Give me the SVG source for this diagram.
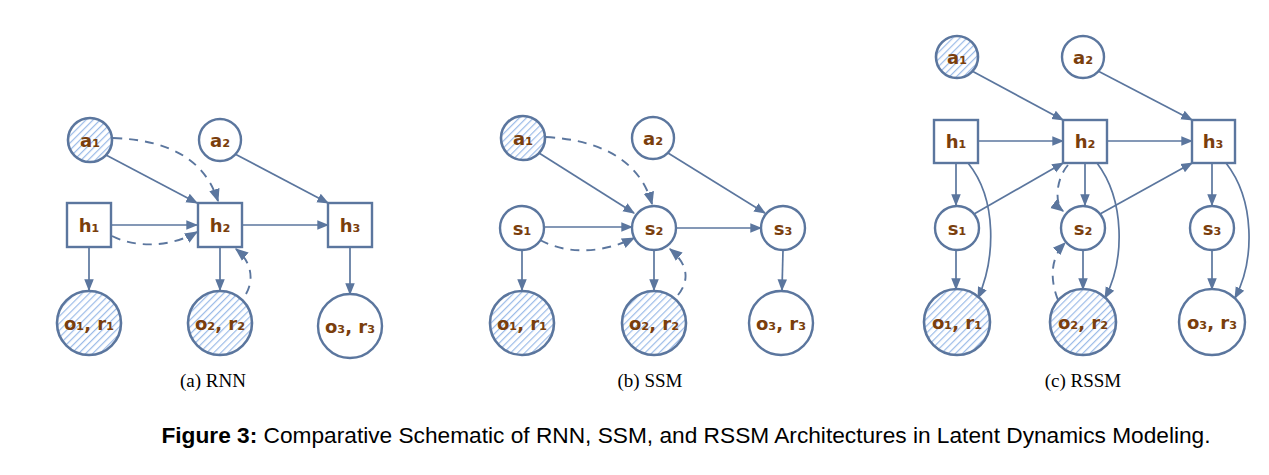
<svg xmlns="http://www.w3.org/2000/svg" width="1269" height="475" viewBox="0 0 1269 475">
<style>
.n{fill:#fff;stroke:#5b769e;stroke-width:2.4}
.h{fill:url(#hatch);stroke:#5b769e;stroke-width:2.6}
.t{font-family:"DejaVu Sans",sans-serif;font-size:18px;font-weight:bold;fill:#7a3e0c;text-anchor:middle;dominant-baseline:central}
.c{fill:none;stroke:#5b769e;stroke-width:1.7;marker-end:url(#ar)}
.d{fill:none;stroke:#5b769e;stroke-width:1.9;stroke-dasharray:9 7;marker-end:url(#ar)}
.cap{font-family:"Liberation Serif",serif;font-size:19px;fill:#000;text-anchor:middle}
</style>
<defs>
<pattern id="hatch" width="5" height="5" patternUnits="userSpaceOnUse" patternTransform="rotate(45)">
<rect width="5" height="5" fill="#fff"/><line x1="0" y1="0" x2="0" y2="5" stroke="#9bbbe8" stroke-width="2.4"/>
</pattern>
<marker id="ar" viewBox="0 0 10 10" refX="9" refY="5" markerWidth="7" markerHeight="7" orient="auto"><path d="M0,1 L10,5 L0,9 z" fill="#5b769e"/></marker>
</defs>
<rect width="1269" height="475" fill="#fff"/>
<g id="connectors">
<path class="c" d="M106,155 L197,203"/>
<path class="d" d="M113,138 C170,140 205,160 218,201"/>
<path class="c" d="M235,154 L328,203"/>
<path class="c" d="M111,225 L197,225"/>
<path class="d" d="M112,236 C140,250 175,245 197,232"/>
<path class="c" d="M242,225 L328,225"/>
<path class="c" d="M89,247 L89,290"/>
<path class="c" d="M220,247 L220,290"/>
<path class="d" d="M246,294 C254,280 252,262 236,249"/>
<path class="c" d="M350,247 L350,294"/>
<path class="c" d="M539,153 L634,213"/>
<path class="d" d="M546,137 C600,140 640,160 652,204"/>
<path class="c" d="M668,153 L765,213"/>
<path class="c" d="M544,227 L632,227"/>
<path class="d" d="M540,240 C570,256 605,252 634,238"/>
<path class="c" d="M676,228 L761,228"/>
<path class="c" d="M522,250 L522,290"/>
<path class="c" d="M654,250 L654,290"/>
<path class="d" d="M678,295 C690,280 688,264 670,249"/>
<path class="c" d="M783,250 L782,290"/>
<path class="c" d="M972,71 L1063,120"/>
<path class="c" d="M1098,71 L1192,120"/>
<path class="c" d="M978,141 L1063,141"/>
<path class="c" d="M1107,141 L1192,141"/>
<path class="c" d="M956,163 L956,205"/>
<path class="c" d="M1085,163 L1085,205"/>
<path class="c" d="M1212,163 L1212,205"/>
<path class="c" d="M974,214 L1063,163"/>
<path class="c" d="M1100,214 L1192,163"/>
<path class="c" d="M956,250 L956,289"/>
<path class="c" d="M1083,250 L1083,289"/>
<path class="c" d="M1212,250 L1212,289"/>
<path class="c" d="M968,163 C998,200 995,260 978,298"/>
<path class="c" d="M1097,163 C1125,200 1125,260 1105,298"/>
<path class="c" d="M1226,163 C1255,200 1255,260 1235,298"/>
<path class="d" d="M1068,165 C1055,180 1055,205 1063,211"/>
<path class="d" d="M1058,300 C1050,280 1050,258 1065,243"/>
</g>
<g id="a-a1"><circle class="h" cx="90" cy="140" r="22"/><text class="t" x="90" y="140">a₁</text></g>
<g id="a-a2"><circle class="n" cx="220" cy="140" r="21"/><text class="t" x="220" y="140">a₂</text></g>
<g id="a-h1"><rect class="n" x="67" y="203" width="44" height="44"/><text class="t" x="89" y="225">h₁</text></g>
<g id="a-h2"><rect class="n" x="198" y="203" width="44" height="44"/><text class="t" x="220" y="225">h₂</text></g>
<g id="a-h3"><rect class="n" x="328" y="203" width="44" height="44"/><text class="t" x="350" y="225">h₃</text></g>
<g id="a-o1"><circle class="h" cx="89" cy="323" r="32"/><text class="t" x="89" y="323">o₁, r₁</text></g>
<g id="a-o2"><circle class="h" cx="220" cy="323" r="32"/><text class="t" x="220" y="323">o₂, r₂</text></g>
<g id="a-o3"><circle class="n" cx="350" cy="326" r="32"/><text class="t" x="350" y="326">o₃, r₃</text></g>
<g id="b-a1"><circle class="h" cx="523" cy="138" r="22"/><text class="t" x="523" y="138">a₁</text></g>
<g id="b-a2"><circle class="n" cx="653" cy="138" r="21"/><text class="t" x="653" y="138">a₂</text></g>
<g id="b-s1"><circle class="n" cx="522" cy="228" r="22"/><text class="t" x="522" y="228">s₁</text></g>
<g id="b-s2"><circle class="n" cx="654" cy="228" r="22"/><text class="t" x="654" y="228">s₂</text></g>
<g id="b-s3"><circle class="n" cx="783" cy="228" r="22"/><text class="t" x="783" y="228">s₃</text></g>
<g id="b-o1"><circle class="h" cx="522" cy="323" r="32"/><text class="t" x="522" y="323">o₁, r₁</text></g>
<g id="b-o2"><circle class="h" cx="654" cy="323" r="32"/><text class="t" x="654" y="323">o₂, r₂</text></g>
<g id="b-o3"><circle class="n" cx="781" cy="323" r="32"/><text class="t" x="781" y="323">o₃, r₃</text></g>
<g id="c-a1"><circle class="h" cx="957" cy="57" r="21"/><text class="t" x="957" y="57">a₁</text></g>
<g id="c-a2"><circle class="n" cx="1083" cy="57" r="21"/><text class="t" x="1083" y="57">a₂</text></g>
<g id="c-h1"><rect class="n" x="934" y="120" width="44" height="43"/><text class="t" x="956" y="141">h₁</text></g>
<g id="c-h2"><rect class="n" x="1063" y="120" width="44" height="43"/><text class="t" x="1085" y="141">h₂</text></g>
<g id="c-h3"><rect class="n" x="1192" y="120" width="43" height="43"/><text class="t" x="1213" y="141">h₃</text></g>
<g id="c-s1"><circle class="n" cx="957" cy="228" r="22"/><text class="t" x="957" y="228">s₁</text></g>
<g id="c-s2"><circle class="n" cx="1083" cy="228" r="22"/><text class="t" x="1083" y="228">s₂</text></g>
<g id="c-s3"><circle class="n" cx="1212" cy="228" r="22"/><text class="t" x="1212" y="228">s₃</text></g>
<g id="c-o1"><circle class="h" cx="957" cy="322" r="33"/><text class="t" x="957" y="322">o₁, r₁</text></g>
<g id="c-o2"><circle class="h" cx="1083" cy="322" r="33"/><text class="t" x="1083" y="322">o₂, r₂</text></g>
<g id="c-o3"><circle class="n" cx="1212" cy="322" r="33"/><text class="t" x="1212" y="322">o₃, r₃</text></g>
<text class="cap" x="213" y="387">(a)  RNN</text>
<text class="cap" x="650" y="387">(b)  SSM</text>
<text class="cap" x="1083" y="387">(c)  RSSM</text>
<text x="686" y="443" font-family="'Liberation Sans',Arial,sans-serif" font-size="22.7" text-anchor="middle"><tspan font-weight="bold">Figure 3:</tspan> Comparative Schematic of RNN, SSM, and RSSM Architectures in Latent Dynamics Modeling.</text>
</svg>
